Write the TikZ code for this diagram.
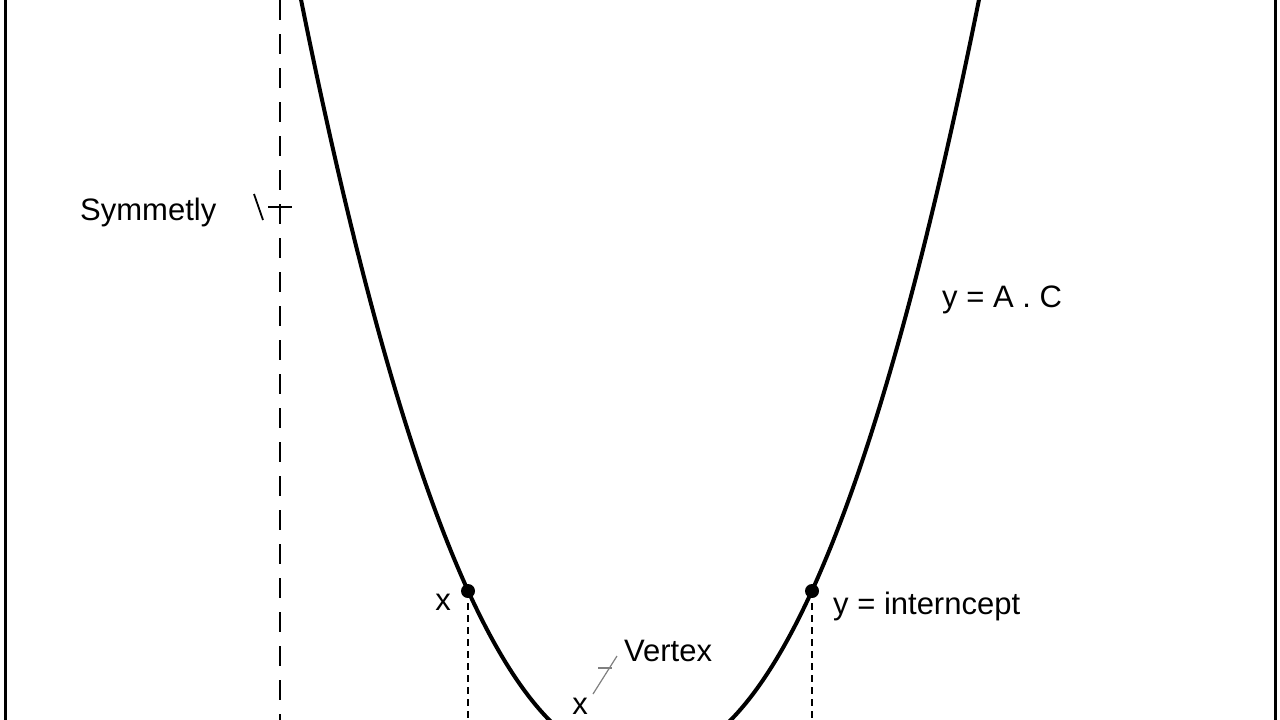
\documentclass[tikz,border=0pt]{standalone}
\usepackage{fontspec}
\setmainfont{Liberation Sans}
\begin{document}
\begin{tikzpicture}[x=1pt,y=-1pt,
  lbl/.style={inner sep=0pt,font=\fontsize{31}{35}\selectfont},
  dsh/.style={dash pattern=on 7pt off 5pt,line width=1.4pt}]
\useasboundingbox (0,0) rectangle (1280,720);
\fill[white] (0,0) rectangle (1280,720);
\draw[line width=3pt] (5,0) -- (5,720);
\draw[line width=3pt] (1275,0) -- (1275,720);
% axis of symmetry
\draw[dash pattern=on 20pt off 14pt,line width=2.4pt] (280,0) -- (280,720);
\draw[line width=2pt] (268,207) -- (292,207);
\draw[line width=1.8pt] (254,194) -- (263,220);
\node[lbl,anchor=west] (sym) at (80,212) {Symmetly};
% parabola
\draw[line width=4pt,domain=296:984,samples=160,smooth] plot (\x,{762-51.97*((abs(\x-640)+0.01)/100)^2.2});
\coordinate (p1) at (468,591);
\coordinate (p2) at (812,591);
\fill (p1) circle (7pt);
\fill (p2) circle (7pt);
\coordinate (b1) at (468,720);
\coordinate (b2) at (812,720);
\draw[dsh] (p1) -- (b1);
\draw[dsh] (p2) -- (b2);
\node[lbl] (x1) at (443,602) {x};
\node[lbl,anchor=west] (yint) at (833,606) {y = interncept};
\node[lbl,anchor=west] (eq) at (942,300) {y = A . C};
\node[lbl,anchor=west] (vt) at (624,651) {Vertex};
\node[lbl] (x2) at (580,706) {x};
\draw[gray,line width=1.2pt] (617,656) -- (593,694);
\draw[gray,line width=1.2pt] (598,668) -- (612,668);
\end{tikzpicture}
\end{document}
